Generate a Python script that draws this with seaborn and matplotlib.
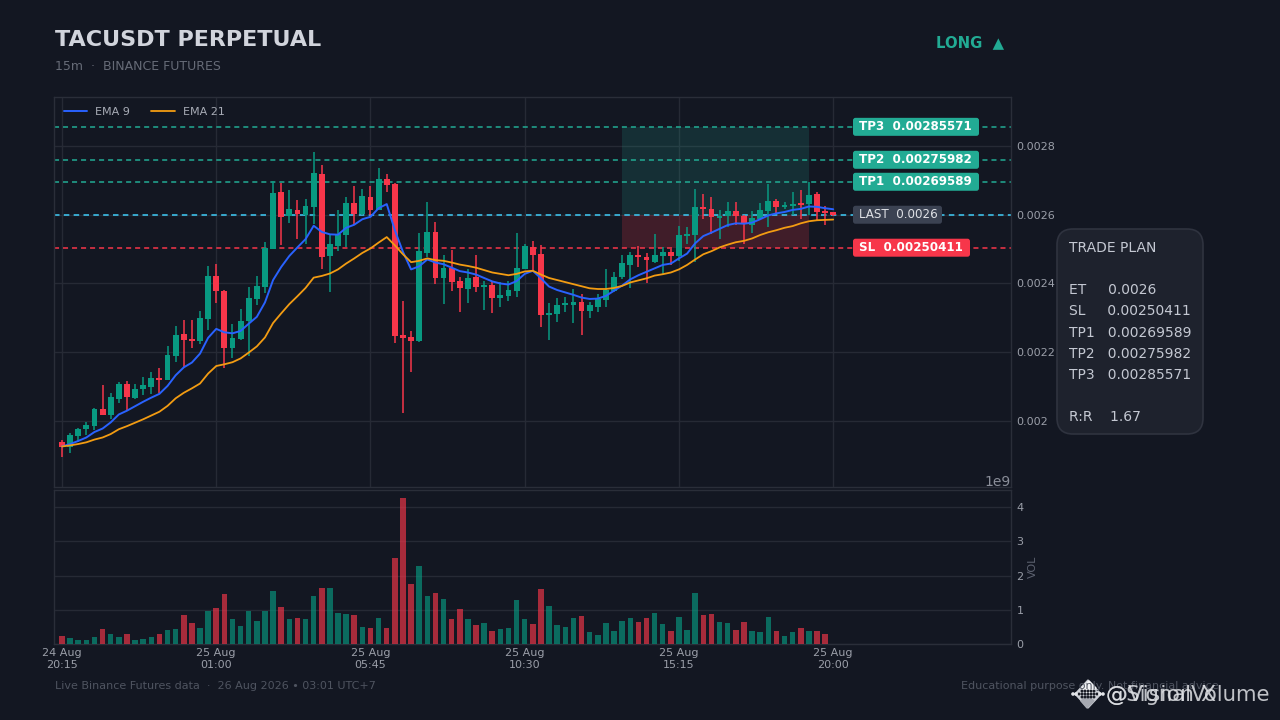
import numpy as np
import pandas as pd
import seaborn as sns
import matplotlib
matplotlib.use('Agg')
import matplotlib.pyplot as plt
from matplotlib.patches import FancyBboxPatch, Polygon, Circle
from matplotlib.transforms import IdentityTransform

# prices, in millionths
opens = [1939,1925,1956,1976,1985,2035,2017,2064,2107,2067,2093,2099,2125,2119,2189,2253,2238,2232,2296,2422,
         2378,2212,2238,2290,2354,2389,2500,2666,2596,2613,2599,2622,2718,2479,2509,2541,2634,2602,2651,2613,
         2703,2689,2250,2244,2232,2489,2550,2416,2445,2407,2384,2419,2390,2396,2358,2364,2378,2442,2506,2486,
         2308,2311,2337,2337,2346,2320,2332,2352,2378,2419,2454,2483,2477,2463,2480,2491,2480,2538,2541,2622,
         2616,2590,2596,2611,2596,2570,2587,2611,2640,2622,2626,2634,2631,2660,2611,2608]
highs = [1945,1964,1981,1998,2037,2106,2080,2114,2116,2107,2129,2143,2153,2219,2277,2293,2295,2321,2452,2456,
         2381,2282,2325,2390,2422,2521,2699,2691,2672,2644,2645,2783,2746,2541,2613,2652,2683,2674,2683,2735,
         2718,2691,2348,2262,2546,2638,2578,2483,2498,2418,2442,2482,2408,2405,2405,2408,2546,2514,2523,2511,
         2342,2359,2362,2385,2368,2346,2368,2443,2432,2484,2492,2508,2489,2545,2506,2499,2568,2563,2674,2659,
         2653,2614,2638,2638,2599,2612,2633,2688,2645,2638,2665,2671,2696,2665,2625,2609]
lows = [1894,1908,1939,1959,1973,2017,2007,2051,2032,2063,2075,2078,2080,2119,2171,2158,2211,2224,2266,2342,
        2153,2182,2235,2188,2337,2371,2500,2511,2577,2529,2516,2574,2442,2374,2494,2505,2570,2599,2599,2613,
        2667,2227,2022,2143,2231,2478,2399,2339,2379,2318,2342,2376,2322,2315,2331,2348,2360,2441,2439,2274,
        2235,2287,2316,2284,2251,2299,2318,2333,2376,2412,2386,2449,2402,2461,2427,2454,2466,2515,2463,2588,
        2544,2530,2565,2570,2515,2546,2584,2563,2604,2616,2599,2587,2599,2585,2569,2597]
closes = [1925,1959,1976,1988,2035,2017,2069,2107,2069,2093,2104,2125,2119,2192,2250,2235,2232,2299,2422,2378,
          2213,2241,2290,2357,2392,2503,2663,2593,2616,2602,2625,2721,2477,2514,2543,2634,2602,2654,2613,2703,
          2686,2247,2241,2232,2494,2550,2416,2445,2404,2387,2416,2390,2396,2358,2367,2381,2445,2509,2483,2308,
          2314,2337,2340,2346,2320,2337,2354,2381,2419,2459,2483,2477,2468,2483,2491,2480,2541,2544,2622,2616,
          2593,2597,2611,2596,2576,2590,2614,2640,2622,2626,2631,2628,2657,2608,2605,2600]
ema9 = [1926,1933,1942,1952,1968,1978,1996,2019,2030,2043,2056,2068,2079,2102,2133,2156,2170,2196,2242,2268,
        2258,2255,2262,2283,2303,2345,2410,2448,2480,2505,2529,2568,2550,2543,2542,2562,2571,2587,2594,2619,
        2631,2555,2492,2441,2450,2470,2461,2456,2446,2436,2432,2426,2416,2406,2400,2397,2407,2428,2437,2415,
        2391,2381,2374,2367,2359,2355,2356,2364,2379,2394,2412,2424,2434,2444,2454,2458,2473,2487,2517,2538,
        2548,2559,2570,2575,2574,2577,2587,2598,2604,2608,2614,2617,2624,2623,2619,2616]
ema21 = [1926,1929,1933,1938,1946,1952,1962,1976,1985,1995,2005,2016,2027,2044,2066,2082,2095,2109,2138,2160,
         2165,2171,2182,2199,2217,2243,2285,2313,2340,2363,2387,2417,2422,2429,2441,2458,2473,2489,2502,2519,
         2535,2511,2485,2462,2466,2473,2468,2466,2461,2455,2451,2446,2439,2432,2428,2424,2428,2435,2437,2426,
         2416,2410,2404,2398,2392,2386,2384,2384,2387,2393,2403,2409,2415,2423,2427,2432,2441,2454,2470,2485,
         2494,2505,2513,2520,2524,2531,2541,2549,2555,2562,2567,2575,2581,2584,2585,2586]
# volume, billions
volumes = [.23,.18,.12,.12,.2,.44,.29,.2,.29,.12,.15,.2,.29,.41,.44,.85,.61,.47,.97,1.05,
           1.46,.73,.53,.97,.67,.97,1.55,1.08,.73,.76,.73,1.4,1.64,1.64,.91,.88,.85,.5,.47,.76,
           .47,2.52,4.27,1.76,2.28,1.4,1.49,1.32,.73,1.02,.73,.56,.61,.38,.44,.47,1.29,.73,.59,1.61,
           1.11,.56,.5,.76,.82,.35,.26,.61,.38,.67,.76,.64,.76,.91,.59,.38,.79,.41,1.49,.85,
           .88,.64,.61,.41,.64,.38,.35,.79,.38,.23,.35,.47,.38,.38,.29,0]
tick_bars = [0, 19, 38, 57, 76, 95]
tick_labels = ['24 Aug\n20:15', '25 Aug\n01:00', '25 Aug\n05:45', '25 Aug\n10:30', '25 Aug\n15:15', '25 Aug\n20:00']
price_ticks = [0.002, 0.0022, 0.0024, 0.0026, 0.0028]
price_labels = ['0.002', '0.0022', '0.0024', '0.0026', '0.0028']
entry = 0.0026
sl = 0.00250411
tp1 = 0.00269589
tp2 = 0.00275982
tp3 = 0.00285571

BG = '#131722'
GRID = '#262a35'
SPINE = '#2a2e39'
UP = '#089981'
DOWN = '#f7364a'
TEAL = '#22ab94'

sns.set_theme(style='dark', rc={'figure.facecolor': BG, 'axes.facecolor': BG, 'savefig.facecolor': BG,
                                'axes.edgecolor': SPINE, 'axes.linewidth': 1.0, 'grid.color': GRID})
plt.rcParams['font.family'] = ['DejaVu Sans']

df = pd.DataFrame({'bar': np.arange(len(opens)), 'open': opens, 'high': highs, 'low': lows, 'close': closes,
                   'ema9': ema9, 'ema21': ema21, 'volume': volumes})
for col in ['open', 'high', 'low', 'close', 'ema9', 'ema21']:
    df[col] = df[col] / 1e6
df['volume'] = df['volume'] * 1e9
df['up'] = df['close'] >= df['open']

W, H = 1280, 720
fig = plt.figure(figsize=(12.8, 7.2), dpi=100)
ax = fig.add_axes([54 / W, 1 - 487 / H, (1011 - 54) / W, (487 - 97) / H])
ax_vol = fig.add_axes([54 / W, 1 - 644 / H, (1011 - 54) / W, (644 - 490) / H])

xmin, xmax = -0.986, 116.9
ax.set_xlim(xmin, xmax)
ax.set_ylim(0.001808, 0.0029425)

# candles
colors = np.where(df['up'], UP, DOWN)
ax.vlines(df['bar'], df['low'], df['high'], colors=colors, linewidth=1.1, zorder=3)
ax.bar(df['bar'], (df['close'] - df['open']).abs().clip(lower=5e-6), bottom=df[['open', 'close']].min(axis=1),
       width=0.72, color=colors, linewidth=0, zorder=4)

sns.lineplot(data=df, x='bar', y='ema9', ax=ax, color='#2962ff', linewidth=1.4, label='EMA 9', zorder=5)
sns.lineplot(data=df, x='bar', y='ema21', ax=ax, color='#f39c12', linewidth=1.3, label='EMA 21', zorder=5)

# reward / risk zones
span = xmax - xmin
ax.axhspan(entry, tp3, xmin=(69 - xmin) / span, xmax=(92 - xmin) / span, color=TEAL, alpha=0.17, linewidth=0, zorder=1)
ax.axhspan(sl, entry, xmin=(69 - xmin) / span, xmax=(92 - xmin) / span, color=DOWN, alpha=0.2, linewidth=0, zorder=1)


def add_tag(level, label, col, right_px, txt_col='white', weight='bold'):
    # tag box in pixels, centred on the level
    y_px = ax.transData.transform((0, level))[1]
    box = FancyBboxPatch((853, y_px - 9), right_px - 853, 18, boxstyle='round,pad=0,rounding_size=2.5',
                         transform=IdentityTransform(), facecolor=col, edgecolor='none', zorder=8)
    fig.add_artist(box)
    fig.text(859 / W, y_px / H, label, color=txt_col, fontsize=8.6, fontweight=weight, va='center', ha='left', zorder=9)


# level lines and tags
for level, name, col, right in [(tp3, 'TP3', TEAL, 979), (tp2, 'TP2', TEAL, 979), (tp1, 'TP1', TEAL, 979), (sl, 'SL', DOWN, 970)]:
    ax.axhline(level, color=col, linestyle=(0, (3.3, 2.6)), linewidth=1.1, zorder=2)
    add_tag(level, f'{name}  {level:.8f}', col, right)
ax.axhline(entry, color='#3dbfe8', linestyle=(0, (3.3, 2.6)), linewidth=1.2, zorder=2)
add_tag(entry, f'LAST  {entry}', '#3b4252', 942, txt_col='#dfe1e6', weight='normal')

ax.yaxis.tick_right()
ax.set_yticks(price_ticks, price_labels)
ax.set_xticks(tick_bars, [''] * len(tick_bars))
ax.grid(True, color=GRID, linewidth=1.0, zorder=0)
ax.set_axisbelow(True)
ax.tick_params(axis='y', length=0, pad=4, labelsize=8, labelcolor='#9a9ea8')
ax.tick_params(axis='x', length=0)
ax.set_xlabel('')
ax.set_ylabel('')
ax.legend(loc='upper left', frameon=False, ncol=2, fontsize=8, labelcolor='#a8acb6', handlelength=2.1,
          columnspacing=1.9, handletextpad=0.75, borderaxespad=0.47, bbox_to_anchor=(0, 1.0))
for s in ax.spines.values():
    s.set_color(SPINE)

# volume panel
sns.barplot(data=df, x='bar', y='volume', hue='up', native_scale=True, dodge=False, width=0.68, legend=False,
            palette={True: UP, False: DOWN}, saturation=1, alpha=0.65, linewidth=0, ax=ax_vol, zorder=3)
ax_vol.set_xlim(xmin, xmax)
ax_vol.set_ylim(0, 4.5e9)
ax_vol.yaxis.tick_right()
ax_vol.set_yticks([0, 1e9, 2e9, 3e9, 4e9])
ax_vol.set_xticks(tick_bars, tick_labels)
ax_vol.grid(True, axis='y', color=GRID, linewidth=1.0)
ax_vol.grid(False, axis='x')
ax_vol.set_axisbelow(True)
ax_vol.tick_params(axis='y', length=0, pad=4, labelsize=8, labelcolor='#9a9ea8')
ax_vol.tick_params(axis='x', length=0, pad=3, labelsize=8, labelcolor='#9a9ea8')
ax_vol.set_xlabel('')
ax_vol.yaxis.set_label_position('right')
ax_vol.set_ylabel('VOL', color='#5d6270', fontsize=8, labelpad=3)
ax_vol.yaxis.get_offset_text().set_color('#8a8e99')
ax_vol.yaxis.get_offset_text().set_fontsize(10)
for s in ax_vol.spines.values():
    s.set_color(SPINE)

# header
fig.text(55 / W, 1 - 40.5 / H, 'TACUSDT PERPETUAL', color='#d1d4dc', fontsize=16, fontweight='bold', va='center')
fig.text(55 / W, 1 - 66 / H, '15m  ·  BINANCE FUTURES', color='#666b77', fontsize=9, va='center')
fig.text(1004 / W, 1 - 43 / H, 'LONG  ▲', color=TEAL, fontsize=10.7, fontweight='bold', va='center', ha='right')

# trade plan box
panel = FancyBboxPatch((1057, 720 - 434), 146, 205, boxstyle='round,pad=0,rounding_size=16',
                       transform=IdentityTransform(), facecolor='#1e222d', edgecolor='#2f333f', linewidth=1.2, zorder=5)
fig.add_artist(panel)
plan_text = 'TRADE PLAN\n\nET     0.0026\nSL     0.00250411\nTP1   0.00269589\nTP2   0.00275982\nTP3   0.00285571\n\nR:R    1.67'
fig.text(1069 / W, 1 - 241 / H, plan_text, color='#c4c8d2', fontsize=10, va='top', ha='left', linespacing=1.65, zorder=6)

# footer
fig.text(55 / W, 1 - 686 / H, 'Live Binance Futures data  ·  26 Aug 2026 • 03:01 UTC+7', color='#4f5460', fontsize=8, va='center')
fig.text(961 / W, 1 - 686 / H, 'Educational purpose only. Not financial advice', color='#4f5460', fontsize=8, va='center')

# watermark
logo = fig.add_axes([1070 / W, 1 - 710 / H, 36 / W, 32 / H])
logo.set_xlim(-18, 18)
logo.set_ylim(-16, 16)
logo.axis('off')
logo.patch.set_alpha(0)
logo.add_patch(Polygon([[0, 14], [13, 0], [0, -14], [-13, 0]], closed=True, color='#cdd0d6', zorder=1))
logo.add_patch(Polygon([[1, 13], [8, 6], [1, 0], [-6, 6]], closed=True, color='#f2f3f5', zorder=2))
logo.add_patch(Polygon([[-1, -1], [6, -7], [-1, -14], [-7, -7]], closed=True, color='#a6a9b1', zorder=2))
for gy, reach in [(-3, 6), (0, 9), (3, 6)]:
    for gx in range(-reach, reach + 1, 3):
        logo.add_patch(Circle((gx, gy), 0.75, color='#1a1d26', zorder=3))
for gx in [-15, -12, 12, 15]:
    logo.add_patch(Circle((gx, 0), 1.1, color='#e5e7eb', zorder=3))
fig.text(1106 / W, 1 - 695 / H, '@SignalVolume', color='#dfe1e5', alpha=0.85, fontsize=15.3, va='center', zorder=10)
fig.text(1106 / W, 1 - 695 / H, '@Vision X', color='#dfe1e5', alpha=0.85, fontsize=15.8, va='center', zorder=10)

fig.savefig('out.png', dpi=100)
